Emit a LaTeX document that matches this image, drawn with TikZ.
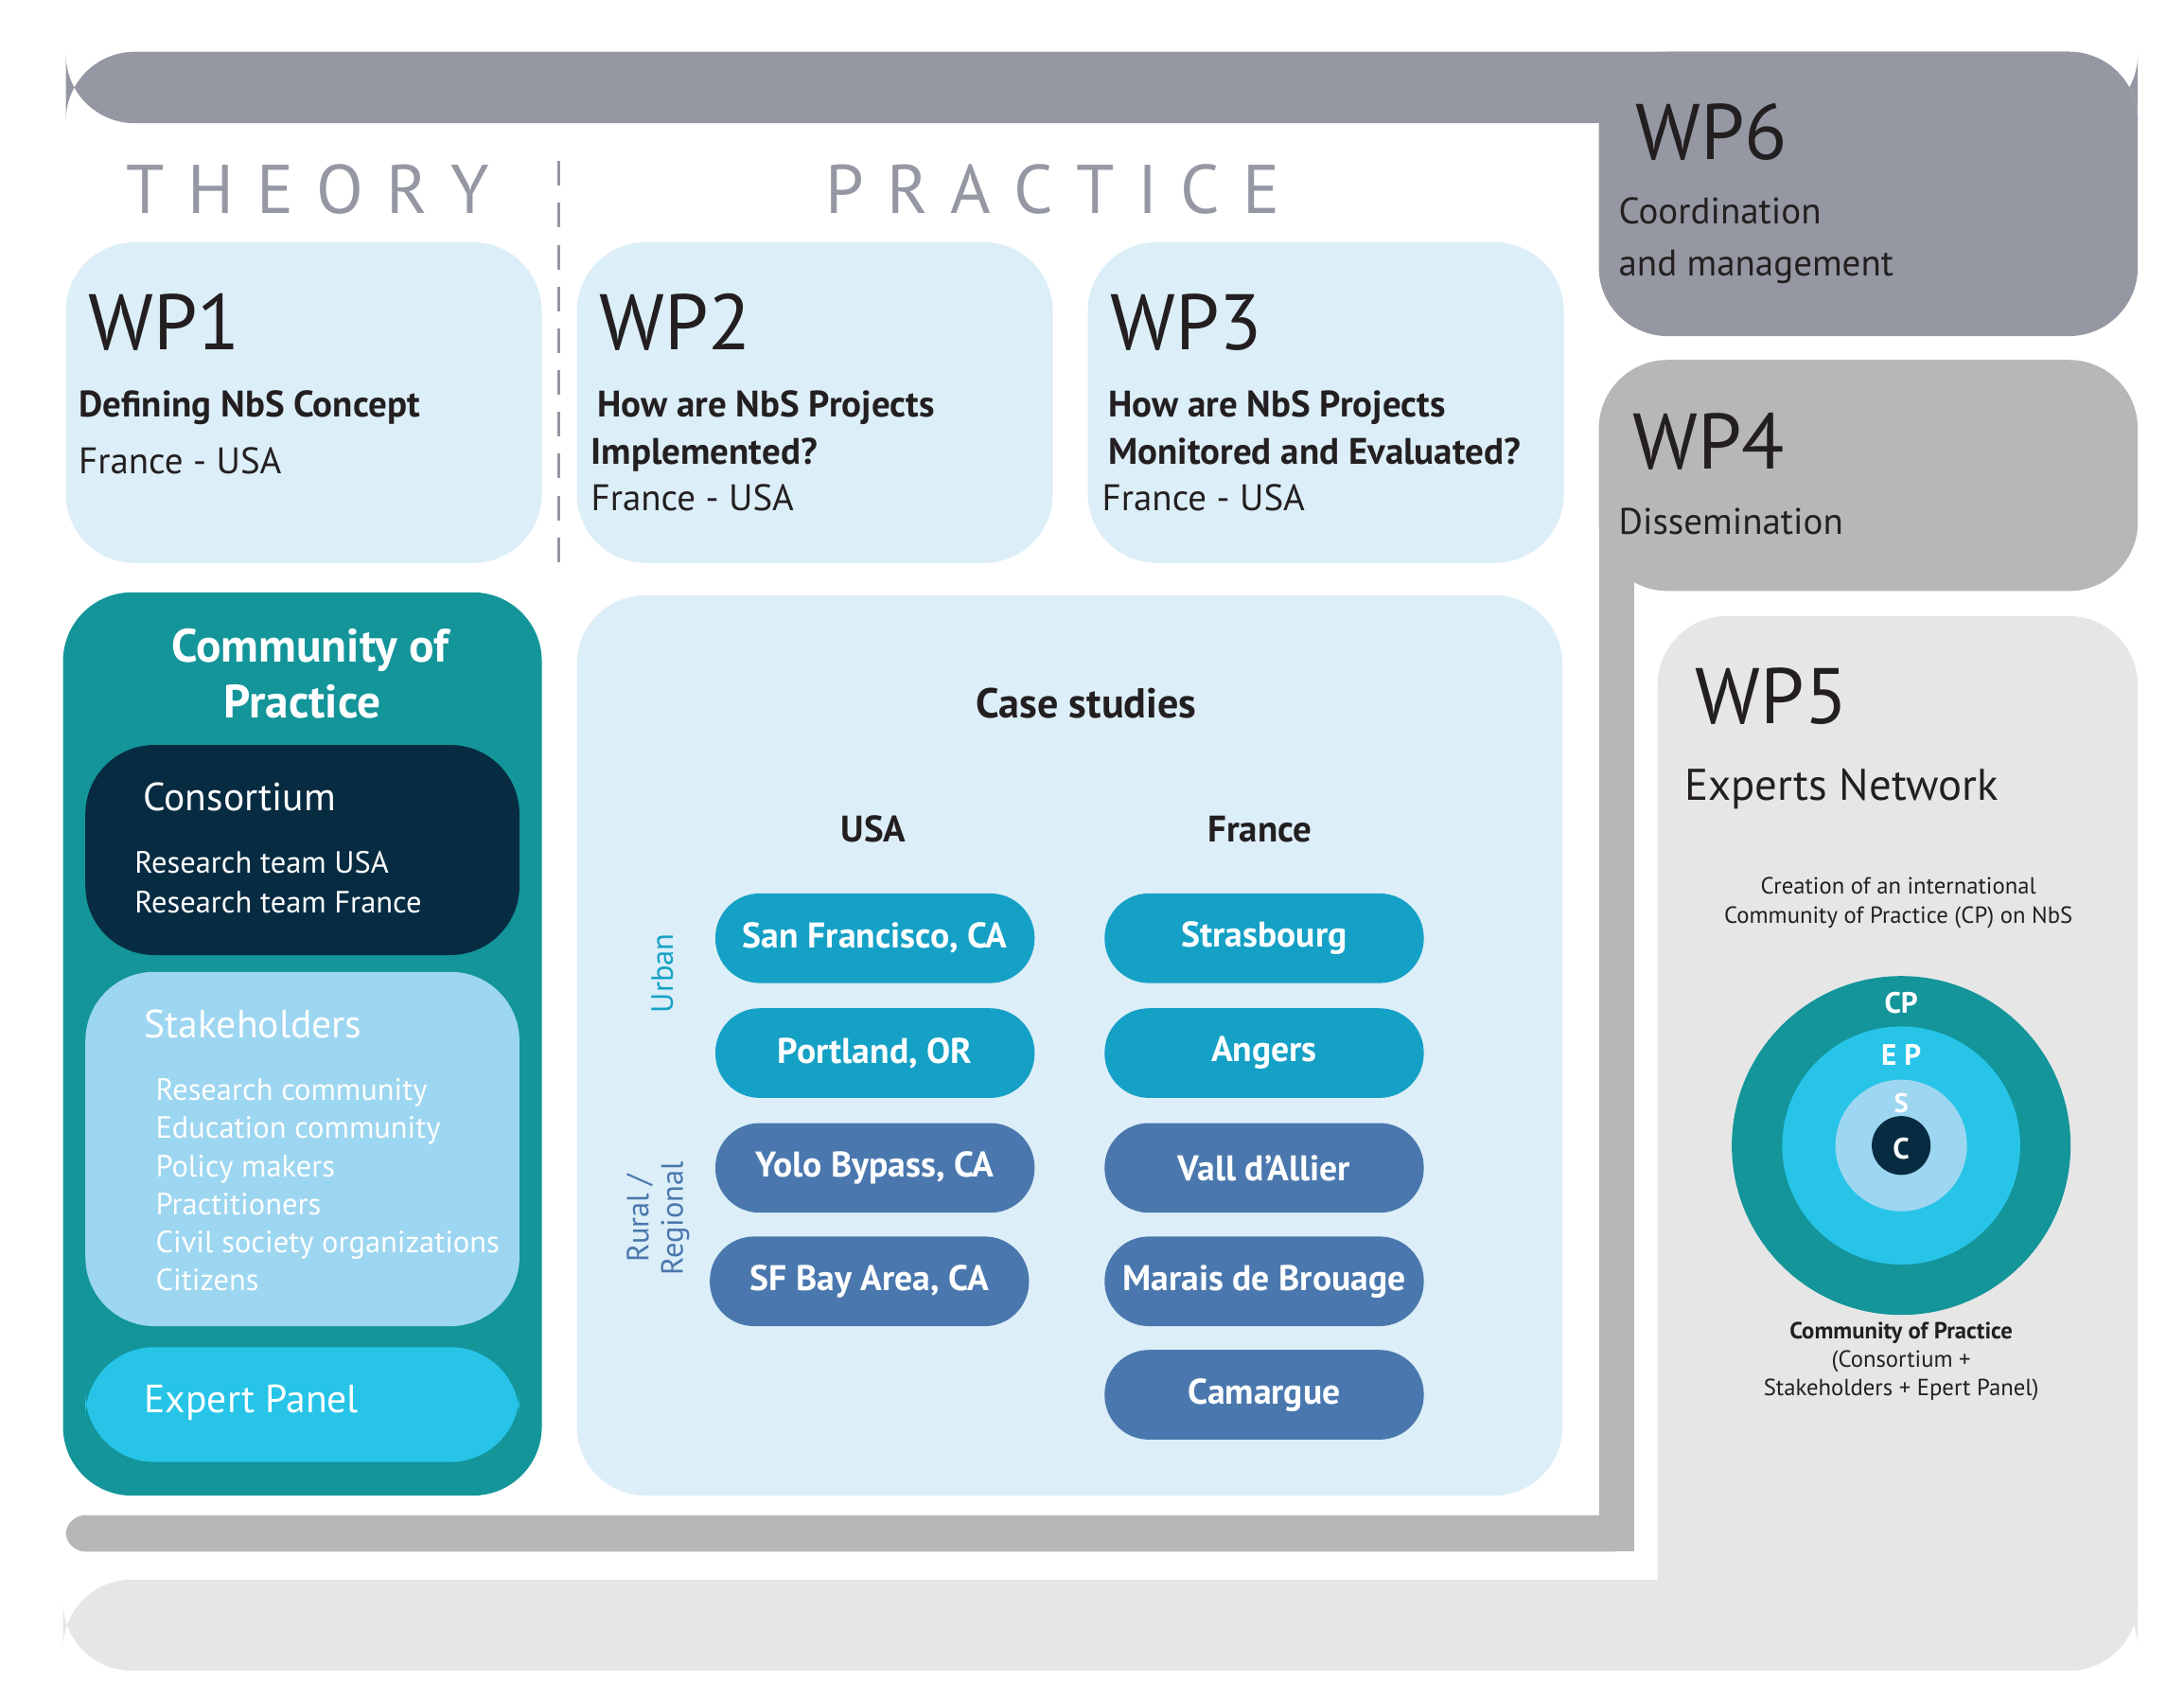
\documentclass[tikz,border=0pt]{standalone}
\usepackage{fontspec}
\setmainfont{PT Sans}
\usetikzlibrary{positioning}
\definecolor{wpsix}{HTML}{9598A3}
\definecolor{wpfour}{HTML}{B7B7B7}
\definecolor{wpfive}{HTML}{E6E6E6}
\definecolor{wpbox}{HTML}{DCEEF8}
\definecolor{teal}{HTML}{13959A}
\definecolor{navy}{HTML}{072C42}
\definecolor{pale}{HTML}{9DD6F0}
\definecolor{cyan}{HTML}{27C4E8}
\definecolor{urban}{HTML}{15A1C6}
\definecolor{rural}{HTML}{4A78AE}
\definecolor{ink}{HTML}{231F20}
\begin{document}
\begin{tikzpicture}[x=0.02cm,y=-0.02cm,
    panel/.style={rounded corners=28pt},
    wptitle/.style={anchor=west,font=\fontsize{32}{34}\selectfont,text=ink},
    wptext/.style={anchor=north west,align=left,font=\fontsize{15}{19}\selectfont,text=ink},
    pill/.style={fill=#1,rounded corners=18pt,minimum width=228*0.02cm,minimum height=64*0.02cm,
        text=white,font=\fontsize{14.5}{16}\selectfont\bfseries},
    head/.style={font=\fontsize{17}{19}\selectfont\bfseries,text=ink},
]
\useasboundingbox (0,0) rectangle (1560,1213);
% outer work packages
\fill[wpfive,panel] (45,1128) rectangle (1527,1193);
\fill[wpfive,panel] (1184,440) rectangle (1527,1193);
\fill[wpfour,rounded corners=8pt] (47,1082) rectangle (1167,1108);
\fill[wpfour] (1142,300) rectangle (1167,1108);
\fill[wpfour,panel] (1142,257) rectangle (1527,422);
\fill[wpsix,panel] (47,37) rectangle (1527,88);
\fill[wpsix,panel] (1142,37) rectangle (1527,240);
\fill[wpsix] (1142,60) rectangle (1300,88);
\node[wptitle] (wp6) at (1162,94) {WP6};
\node[wptext,text=ink] (wp6txt) at (1150,135) {Coordination\\[2pt]and management};
\node[wptitle] (wp4) at (1160,315) {WP4};
\node[wptext] (wp4txt) at (1150,357) {Dissemination};
\node[wptitle] (wp5) at (1205,497) {WP5};
\node[wptext,font=\fontsize{18}{20}\selectfont] (wp5txt) at (1197,543) {Experts Network};
% theory / practice
\node[text=wpsix,font=\fontsize{28}{30}\selectfont] (theory) at (220,135) {T\,\,H\,\,E\,\,O\,\,R\,\,Y};
\node[text=wpsix,font=\fontsize{28}{30}\selectfont] (practice) at (752,135) {P\,\,R\,\,A\,\,C\,\,T\,\,I\,\,C\,\,E};
\draw[wpsix,line width=1.2pt,dash pattern=on 10pt off 7pt] (399,115) -- (399,402);
% WP1-3
\foreach \x/\n in {47/1,412/2,777/3}{
    \fill[wpbox,panel] (\x,173) rectangle (\x+340,402);
    \node[wptitle] (wp\n) at (\x+10,230) {WP\n};
}
\node[wptext] (wp1txt) at (50,273) {\textbf{Defining NbS Concept}\\[4pt]France - USA};
\node[wptext] (wp2txt) at (416,273) {\textbf{\,How are NbS Projects}\\\textbf{Implemented?}\\France - USA};
\node[wptext] (wp3txt) at (781,273) {\textbf{\,How are NbS Projects}\\\textbf{\,Monitored and Evaluated?}\\France - USA};
% community of practice
\fill[teal,panel] (45,423) rectangle (387,1068);
\node[text=white,align=center,font=\fontsize{19}{23}\selectfont\bfseries] (cop) at (216,481) {\,\,Community of\\Practice};
\fill[navy,panel] (61,532) rectangle (371,682);
\node[wptext,text=white,font=\fontsize{16}{18}\selectfont] (cons) at (96,553) {Consortium};
\node[wptext,text=white,font=\fontsize{12.5}{16}\selectfont] (constxt) at (90,602) {Research team USA\\Research team France};
\fill[pale,panel] (61,694) rectangle (371,947);
\node[wptext,text=white,font=\fontsize{16}{18}\selectfont] (stake) at (97,715) {Stakeholders};
\node[wptext,text=white,font=\fontsize{12.5}{15.5}\selectfont] (staketxt) at (105,764)
    {Research community\\Education community\\Policy makers\\Practitioners\\Civil society organizations\\Citizens};
\fill[cyan,panel] (61,962) rectangle (371,1044);
\node[wptext,text=white,font=\fontsize{16}{18}\selectfont] (expert) at (97,983) {Expert Panel};
% case studies
\fill[wpbox,panel] (412,425) rectangle (1116,1068);
\node[head] (cases) at (776,502) {Case studies};
\node[head,font=\fontsize{15}{17}\selectfont\bfseries] (usa) at (624,592) {USA};
\node[head,font=\fontsize{15}{17}\selectfont\bfseries] (fr) at (900,592) {France};
\node[pill=urban] (sf) at (625,670) {San Francisco, CA};
\node[pill=urban] (pdx) at (625,752) {Portland, OR};
\node[pill=rural] (yolo) at (625,834) {Yolo Bypass, CA};
\node[pill=rural] (bay) at (621,915) {SF Bay Area, CA};
\node[pill=urban] (stras) at (903,670) {Strasbourg};
\node[pill=urban] (ang) at (903,752) {Angers};
\node[pill=rural] (vall) at (903,834) {Vall d’Allier};
\node[pill=rural] (mar) at (903,915) {Marais de Brouage};
\node[pill=rural] (cam) at (903,996) {Camargue};
\node[rotate=90,text=urban,font=\fontsize{12.5}{14}\selectfont] (urb) at (473,695) {Urban};
\node[rotate=90,text=rural,align=center,font=\fontsize{12.5}{14}\selectfont] (rur) at (470,870) {Rural /\\Regional};
% experts network circles
\node[align=center,text=ink,font=\fontsize{9.5}{12}\selectfont] (creat) at (1356,645) {Creation of an international\\Community of Practice (CP) on NbS};
\fill[teal] (1358,818) circle (121);
\fill[cyan] (1358,818) circle (85);
\fill[pale] (1358,818) circle (47);
\fill[navy] (1358,818) circle (21);
\node[text=white,font=\fontsize{12}{14}\selectfont\bfseries] (cp) at (1358,716) {CP};
\node[text=white,font=\fontsize{12}{14}\selectfont\bfseries] (ep) at (1358,753) {E P};
\node[text=white,font=\fontsize{11}{13}\selectfont\bfseries] (s) at (1358,788) {S};
\node[text=white,font=\fontsize{12}{14}\selectfont\bfseries] (c) at (1358,820) {C};
\node[align=center,text=ink,font=\fontsize{9.5}{11.5}\selectfont] (coplbl) at (1358,972)
    {\textbf{Community of Practice}\\(Consortium +\\Stakeholders + Epert Panel)};
\end{tikzpicture}
\end{document}
